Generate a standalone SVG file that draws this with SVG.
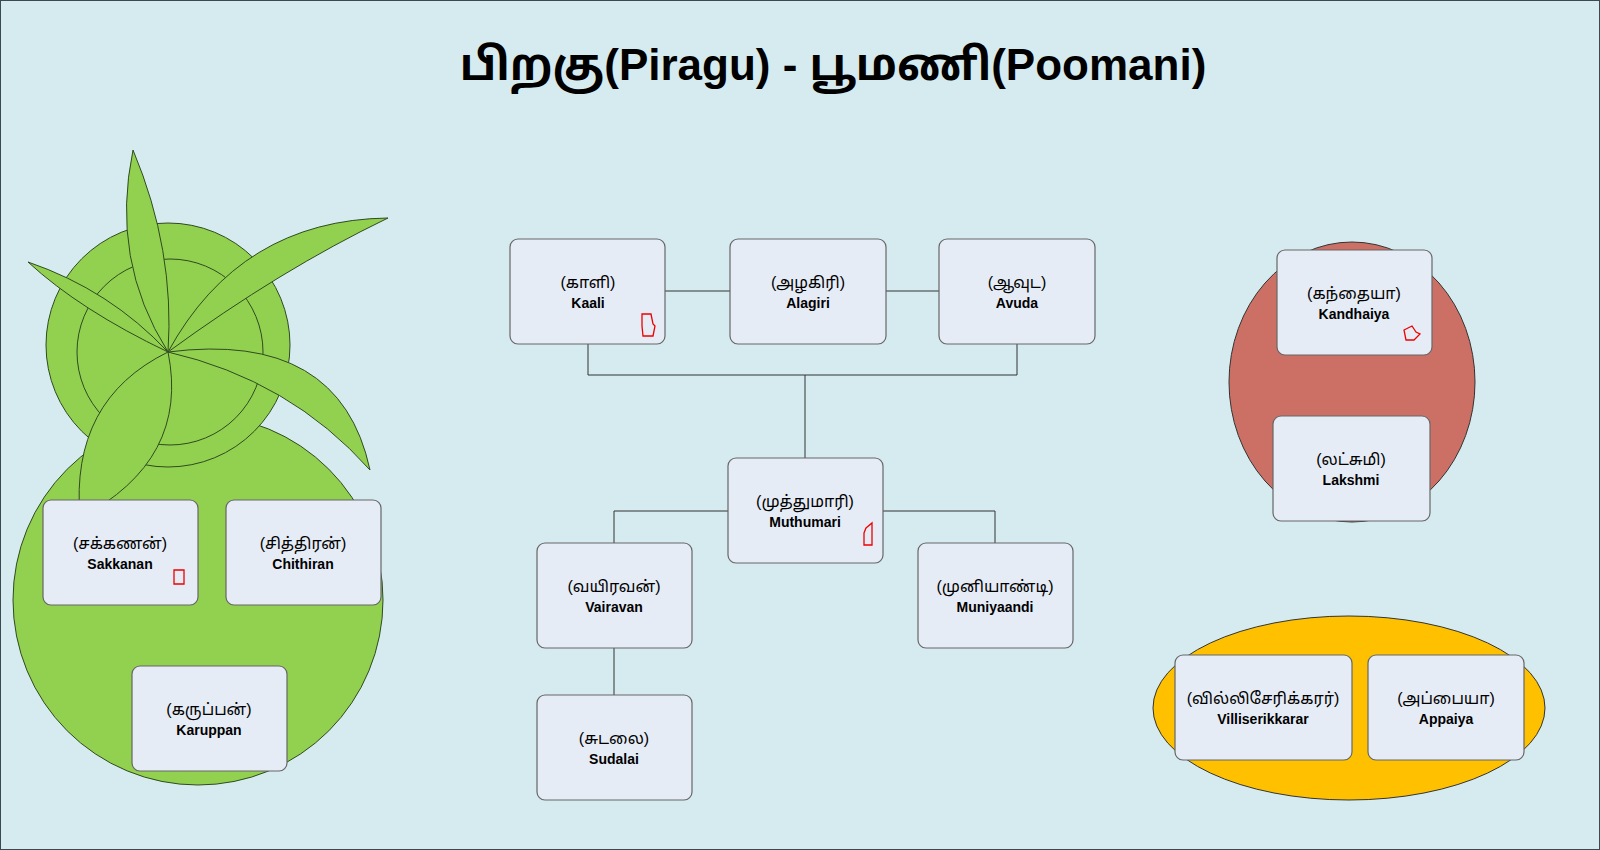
<svg xmlns="http://www.w3.org/2000/svg" width="1600" height="850" viewBox="0 0 1600 850">
<style>
.n text,.t{font-family:"Liberation Sans","Noto Sans Tamil","Noto Sans Tamil UI","Lohit Tamil","FreeSans","Noto Sans",sans-serif;text-anchor:middle;fill:#000}
.n rect{fill:#e6ecf6;stroke:#666;stroke-width:1.2}
.ta{font-size:16px}
.en{font-size:14px;font-weight:bold}
.c{stroke:#333;stroke-width:1;fill:none}
.g{fill:#92d050;stroke:#2f4a20;stroke-width:1}
.m{fill:none;stroke:#e00;stroke-width:1.3}
</style>
<rect x="0.5" y="0.5" width="1599" height="849" fill="#d5ebef" stroke="#3a4a50"/>
<text class="t" x="833" y="80" font-size="44" font-weight="bold">பிறகு(Piragu) - பூமணி(Poomani)</text>
<g id="green">
<circle class="g" cx="198" cy="600" r="185"/>
<circle class="g" cx="168" cy="345" r="122"/>
<circle class="g" cx="170" cy="352" r="93"/>
<path class="g" d="M168,352 Q110,260 133,150 Q175,250 168,352Z"/>
<path class="g" d="M168,352 Q80,310 28,262 Q110,290 168,352Z"/>
<path class="g" d="M168,352 Q240,220 388,218 Q280,270 168,352Z"/>
<path class="g" d="M168,352 Q340,330 370,470 Q290,380 168,352Z"/>
<path class="g" d="M168,352 Q70,400 80,518 Q190,460 168,352Z"/>
</g>
<ellipse cx="1352" cy="382" rx="123" ry="140" fill="#cc7066" stroke="#333"/>
<ellipse cx="1349" cy="708" rx="196" ry="92" fill="#ffc000" stroke="#333"/>
<g id="connectors" class="c">
<path d="M665,291H730M886,291H939M588,344V375H1017V344M805,375V458M728,511H614V543M883,511H995V543M614,648V695"/>
</g>
<g id="kaali" class="n"><rect x="510" y="239" width="155" height="105" rx="8"/><text class="ta" x="588" y="288">(காளி)</text><text class="en" x="588" y="308">Kaali</text><path class="m" d="M642,314h9l2,10l2,2l-2,10h-10l-1,-10z"/></g>
<g id="alagiri" class="n"><rect x="730" y="239" width="156" height="105" rx="8"/><text class="ta" x="808" y="288">(அழகிரி)</text><text class="en" x="808" y="308">Alagiri</text></g>
<g id="avuda" class="n"><rect x="939" y="239" width="156" height="105" rx="8"/><text class="ta" x="1017" y="288">(ஆவுட)</text><text class="en" x="1017" y="308">Avuda</text></g>
<g id="muthumari" class="n"><rect x="728" y="458" width="155" height="105" rx="8"/><text class="ta" x="805" y="507">(முத்துமாரி)</text><text class="en" x="805" y="527">Muthumari</text><path class="m" d="M866,528l6,-5v22h-8v-12z"/></g>
<g id="vairavan" class="n"><rect x="537" y="543" width="155" height="105" rx="8"/><text class="ta" x="614" y="592">(வயிரவன்)</text><text class="en" x="614" y="612">Vairavan</text></g>
<g id="muniyaandi" class="n"><rect x="918" y="543" width="155" height="105" rx="8"/><text class="ta" x="995" y="592">(முனியாண்டி)</text><text class="en" x="995" y="612">Muniyaandi</text></g>
<g id="sudalai" class="n"><rect x="537" y="695" width="155" height="105" rx="8"/><text class="ta" x="614" y="744">(சுடலை)</text><text class="en" x="614" y="764">Sudalai</text></g>
<g id="sakkanan" class="n"><rect x="43" y="500" width="155" height="105" rx="8"/><text class="ta" x="120" y="549">(சக்கணன்)</text><text class="en" x="120" y="569">Sakkanan</text><path class="m" d="M174,570h10v14h-10z"/></g>
<g id="chithiran" class="n"><rect x="226" y="500" width="155" height="105" rx="8"/><text class="ta" x="303" y="549">(சித்திரன்)</text><text class="en" x="303" y="569">Chithiran</text></g>
<g id="karuppan" class="n"><rect x="132" y="666" width="155" height="105" rx="8"/><text class="ta" x="209" y="715">(கருப்பன்)</text><text class="en" x="209" y="735">Karuppan</text></g>
<g id="kandhaiya" class="n"><rect x="1277" y="250" width="155" height="105" rx="8"/><text class="ta" x="1354" y="299">(கந்தையா)</text><text class="en" x="1354" y="319">Kandhaiya</text><path class="m" d="M1404,330l8,-4l4,6l4,2l-6,6h-8z"/></g>
<g id="lakshmi" class="n"><rect x="1273" y="416" width="157" height="105" rx="8"/><text class="ta" x="1351" y="465">(லட்சுமி)</text><text class="en" x="1351" y="485">Lakshmi</text></g>
<g id="villiserikkarar" class="n"><rect x="1175" y="655" width="177" height="105" rx="8"/><text class="ta" x="1263" y="704">(வில்லிசேரிக்கரர்)</text><text class="en" x="1263" y="724">Villiserikkarar</text></g>
<g id="appaiya" class="n"><rect x="1368" y="655" width="156" height="105" rx="8"/><text class="ta" x="1446" y="704">(அப்பையா)</text><text class="en" x="1446" y="724">Appaiya</text></g>
</svg>
